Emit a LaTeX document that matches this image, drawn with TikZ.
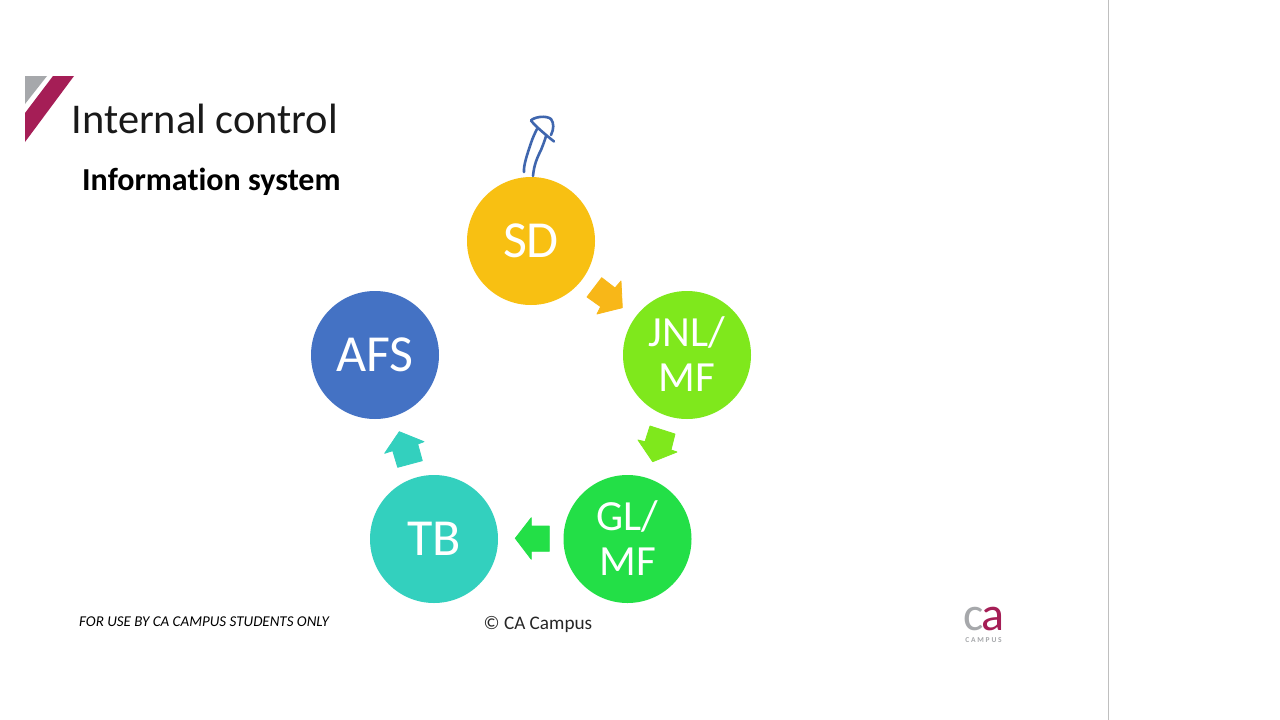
\documentclass[tikz,border=0pt]{standalone}
\usepackage{fontspec}
\setmainfont[RawFeature={-liga}]{Carlito}
\definecolor{cSD}{HTML}{F8C012}
\definecolor{cJNL}{HTML}{7FE81C}
\definecolor{cGL}{HTML}{23DF47}
\definecolor{cTB}{HTML}{33D0BE}
\definecolor{cAFS}{HTML}{4472C4}
\definecolor{cArrowA}{HTML}{F8B718}
\definecolor{cInk}{HTML}{3F66AE}
\definecolor{cMag}{HTML}{A51E56}
\definecolor{cGrey}{HTML}{A6A8AB}
\newcommand{\upa}[1]{\raisebox{2pt}{#1}}
\tikzset{
  ball/.style={circle,minimum size=128pt,inner sep=0pt,text=white,font=\fontsize{52}{54}\selectfont,align=center},
  balltwo/.style={ball,font=\fontsize{43}{45}\selectfont},
  blockarrow/.style={line join=round,line width=0.8pt},
  scribble/.style={draw=cInk,line width=2.6pt,line cap=round,line join=round},
  x=1pt,y=-1pt
}
\begin{document}
\begin{tikzpicture}
\useasboundingbox (0,0) rectangle (1280,720);
\fill[white] (0,0) rectangle (1280,720);
\draw[draw=black!25,line width=1pt] (1108.5,0) -- (1108.5,720);
% corner mark
\fill[cGrey] (25,76) -- (47,76) -- (25,104) -- cycle;
\fill[cMag] (53,76) -- (74,76) -- (25,142) -- (25,113) -- cycle;
% titles
\node[anchor=base west,inner sep=0pt,font=\fontsize{42.4}{46}\selectfont,text=black!90] (title) at (71.5,133.5) {Internal control};
\node[anchor=base west,inner sep=0pt,font=\bfseries\fontsize{32}{34}\selectfont] (subtitle) at (82,190) {Information system};
% circles
\node[ball,fill=cSD] (sd) at (531,241) {\raisebox{1pt}{SD}};
\node[balltwo,fill=cJNL] (jnl) at (687,355) {\upa{JNL/}\\\upa{MF}};
\node[balltwo,fill=cGL] (gl) at (627.5,539) {\upa{GL/}\\\upa{MF}};
\node[ball,fill=cTB] (tb) at (434,539) {\raisebox{1pt}{TB}};
\node[ball,fill=cAFS] (afs) at (375,355) {\raisebox{1pt}{AFS}};
% block arrows
\filldraw[blockarrow,cArrowA] (601.7,277.7) -- (615,288) -- (621,281) -- (622.3,307.7) -- (597,314) -- (600.7,306.7) -- (587,297) -- cycle;
\filldraw[blockarrow,cJNL] (650,426) -- (675,434) -- (671,450) -- (677,452) -- (652.7,461.7) -- (638,440) -- (645,441.7) -- cycle;
\filldraw[blockarrow,cGL] (515.3,538.3) -- (531.3,517.7) -- (531.3,526) -- (549.3,526) -- (549.3,551.3) -- (531.3,551.3) -- (531.3,559.3) -- cycle;
\filldraw[blockarrow,cTB] (399.3,431.7) -- (424,441.7) -- (417.7,444) -- (422.3,460.7) -- (397.7,467.3) -- (392.7,450.7) -- (384.7,453.3) -- cycle;
% pen scribble
\draw[scribble] (524,172) .. controls (523.5,165) and (527,155) .. (531,143) .. controls (533,137) and (535,133) .. (537,129);
\draw[scribble] (533,176) .. controls (534,165) and (537,158) .. (541,150) .. controls (543,145) and (545,140) .. (546,136);
\draw[scribble] (531,120.5) .. controls (534,117) and (546,115) .. (551,119) .. controls (554,123) and (554,129) .. (551,135);
\draw[scribble] (531,120.5) .. controls (535,126) and (546,135) .. (554,141.5);
% footer
\node[anchor=base west,inner sep=0pt,font=\itshape\fontsize{15}{17}\selectfont] (use) at (79,626) {FOR USE BY CA CAMPUS STUDENTS ONLY};
\node[anchor=base west,inner sep=0pt,font=\fontsize{19.2}{22}\selectfont,text=black!85] (copy) at (483.5,629.5) {© CA Campus};
% logo
\node[anchor=base,inner sep=0pt,font=\fontsize{48}{50}\selectfont] (logoca) at (984,630) {\textcolor{cGrey}{c}\kern-1.5pt\textcolor{cMag}{a}};
\node[anchor=base,inner sep=0pt,font=\bfseries\fontsize{7.5}{9}\selectfont,text=cGrey] (logot) at (983.5,642.5) {C\kern1.8pt A\kern1.8pt M\kern1.8pt P\kern1.8pt U\kern1.8pt S};
\end{tikzpicture}
\end{document}
